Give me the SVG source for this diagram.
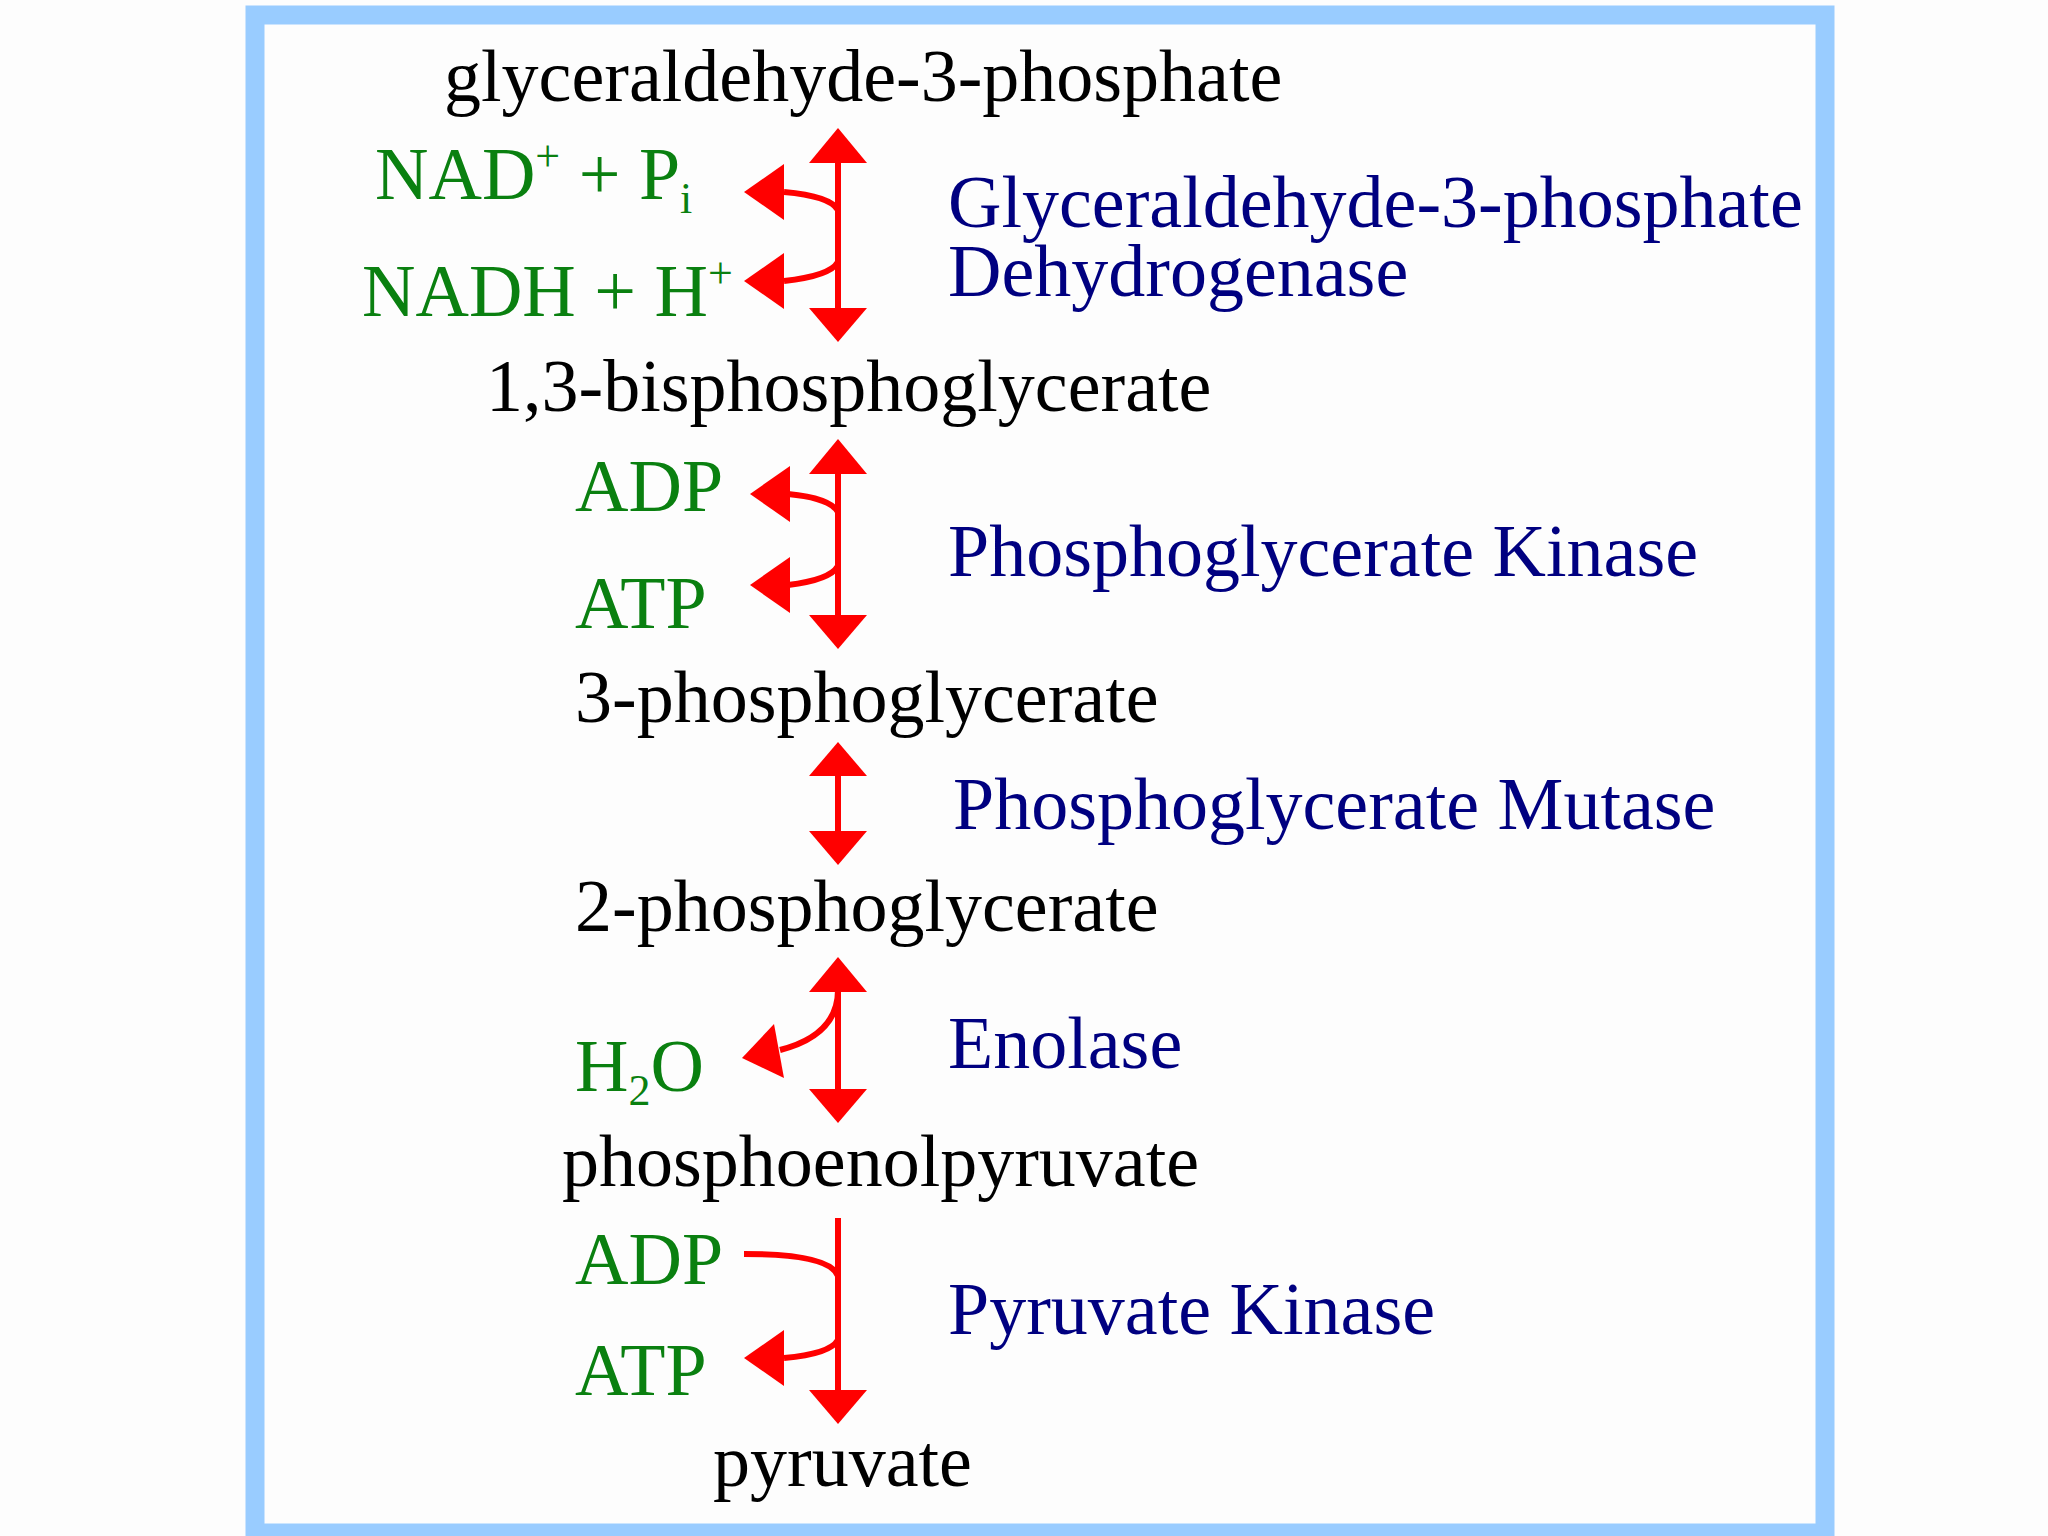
<svg xmlns="http://www.w3.org/2000/svg" width="2048" height="1536" viewBox="0 0 2048 1536">
<style>
text{font-family:"Liberation Serif","Times New Roman",serif;font-size:74px}
.k{fill:#000}.g{fill:#0a8010}.b{fill:#000080}
.ln{fill:none;stroke:#ff0000;stroke-width:6}
.hd{fill:#ff0000}
</style>
<rect x="0" y="0" width="2048" height="1536" fill="#fdfdfd"/>
<rect x="255" y="15" width="1570" height="1518" fill="#fdfdfd" stroke="#99ccff" stroke-width="19"/>
<g id="nodes">
<g id="g3p"><text class="k" x="444" y="101">glyceraldehyde-3-phosphate</text></g>
<g id="nad"><text class="g" x="375" y="199">NAD<tspan dy="-28" font-size="44">+</tspan><tspan dy="28"> + P</tspan><tspan dy="14" font-size="44">i</tspan></text></g>
<g id="nadh"><text class="g" x="362" y="316">NADH + H<tspan dy="-28" font-size="44">+</tspan></text></g>
<g id="gapdh"><text class="b" x="948" y="227">Glyceraldehyde-3-phosphate</text><text class="b" x="948" y="296">Dehydrogenase</text></g>
<g id="bpg"><text class="k" x="486" y="411">1,3-bisphosphoglycerate</text></g>
<g id="adp1"><text class="g" x="575" y="511">ADP</text></g>
<g id="atp1"><text class="g" x="575" y="628">ATP</text></g>
<g id="pgk"><text class="b" x="948" y="576">Phosphoglycerate Kinase</text></g>
<g id="pg3"><text class="k" x="575" y="722">3-phosphoglycerate</text></g>
<g id="pgm"><text class="b" x="953" y="829">Phosphoglycerate Mutase</text></g>
<g id="pg2"><text class="k" x="575" y="931">2-phosphoglycerate</text></g>
<g id="eno"><text class="b" x="948" y="1068">Enolase</text></g>
<g id="h2o"><text class="g" x="575" y="1091">H<tspan dy="14" font-size="44">2</tspan><tspan dy="-14">O</tspan></text></g>
<g id="pep"><text class="k" x="562" y="1186">phosphoenolpyruvate</text></g>
<g id="adp2"><text class="g" x="575" y="1284">ADP</text></g>
<g id="pk"><text class="b" x="948" y="1334">Pyruvate Kinase</text></g>
<g id="atp2"><text class="g" x="575" y="1395">ATP</text></g>
<g id="pyr"><text class="k" x="713" y="1486">pyruvate</text></g>
</g>
<g id="connectors">
<path class="ln" d="M838 160V310M784 192Q830 196 838 210M784 281Q830 276 838 262"/>
<polygon class="hd" points="838,128 809,163 867,163"/>
<polygon class="hd" points="838,342 809,308 867,308"/>
<polygon class="hd" points="744,192 784,164 784,220"/>
<polygon class="hd" points="744,281 784,253 784,309"/>
<path class="ln" d="M838 470V618M788 494Q830 498 838 512M788 585Q830 580 838 566"/>
<polygon class="hd" points="838,439 809,474 867,474"/>
<polygon class="hd" points="838,649 809,615 867,615"/>
<polygon class="hd" points="750,494 790,466 790,522"/>
<polygon class="hd" points="750,585 790,557 790,613"/>
<path class="ln" d="M838 772V835"/>
<polygon class="hd" points="838,742 809,776 867,776"/>
<polygon class="hd" points="838,865 809,831 867,831"/>
<path class="ln" d="M838 988V1092M838 990Q838 1035 780 1050"/>
<polygon class="hd" points="838,957 809,992 867,992"/>
<polygon class="hd" points="838,1123 809,1089 867,1089"/>
<polygon class="hd" points="742,1058 774,1024 784,1078"/>
<path class="ln" d="M838 1218V1394M744 1254Q830 1254 838 1276M784 1358Q830 1354 838 1340"/>
<polygon class="hd" points="838,1424 809,1390 867,1390"/>
<polygon class="hd" points="744,1358 784,1330 784,1386"/>
</g>
</svg>
